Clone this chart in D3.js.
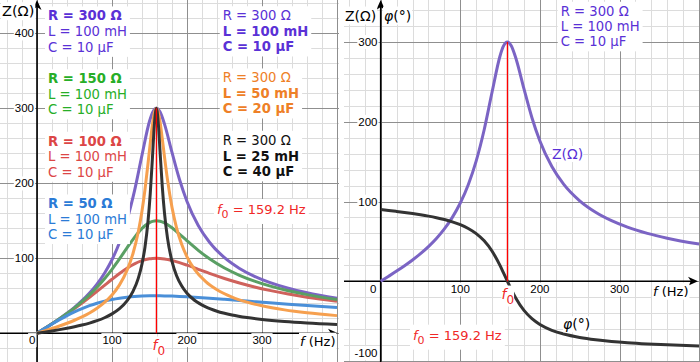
<!DOCTYPE html>
<html><head><meta charset="utf-8">
<script src="https://cdn.jsdelivr.net/npm/d3@7"></script>
<style>
body{margin:0;background:#fff;}
svg{display:block;font-family:"DejaVu Sans",Verdana,sans-serif;}
</style>
</head><body>
<svg id="c" width="700" height="362"></svg>
<script>
// ---------- DATA ----------
const freqCoarse = [0,10,20,30,40,50,60,70,80,90,100,110,120,130,140,150,154,159.2,164,170,180,190,200,215,230,250,270,290,310,335,360,400];
const zR50  = [0,6.26,12.37,18.20,23.64,28.59,33.01,36.85,40.13,42.85,45.05,46.77,48.07,48.99,49.59,49.91,49.97,50,49.98,49.89,49.62,49.23,48.72,47.82,46.79,45.30,43.75,42.18,40.63,38.76,36.98,34.35];
const zR100 = [0,6.30,12.67,19.18,25.91,32.91,40.23,47.88,55.81,63.93,72.02,79.78,86.79,92.61,96.85,99.30,99.78,100,99.82,99.14,97.09,94.20,90.82,85.35,79.88,73.07,67.03,61.76,57.19,52.30,48.16,42.74];
const zR150 = [0,6.30,12.72,19.38,26.41,33.95,42.17,51.25,61.37,72.71,85.36,99.23,113.82,127.98,139.95,147.68,149.27,150,149.40,147.15,140.67,132.30,123.39,110.61,99.42,87.13,77.39,69.58,63.22,56.79,51.60,45.09];
const zR300 = [0,6.31,12.76,19.50,26.72,34.62,43.48,53.65,65.63,80.11,98.11,121.07,150.99,189.95,237.52,282.67,294.31,300,295.25,278.95,241.11,205.00,175.82,143.74,121.42,100.82,86.50,75.98,67.91,60.11,54.05,46.70];
const phiDeg = [90,88.80,87.56,86.27,84.89,83.37,81.67,79.70,77.36,74.51,70.91,66.20,59.78,50.72,37.66,19.57,11.18,0,-10.20,-21.59,-36.51,-46.89,-54.12,-61.37,-66.13,-70.36,-73.24,-75.33,-76.92,-78.44,-79.62,-81.05];

const freqFine = [0,10,20,30,40,50,60,70,80,90,100,110,120,128,135,140,144,148,151,154,156.5,159.2,162,164,167,170,174,180,186,193,200,210,225,240,260,280,300,330,360,400];
const zL50  = [0,3.15,6.38,9.77,13.40,17.40,21.91,27.15,33.42,41.17,51.15,64.61,83.89,106.45,135.02,163.14,191.79,226.02,253.66,279.00,294.07,300,293.44,282.27,259.78,235.22,204.68,167.90,141.00,118.40,102.02,85.35,68.89,58.06,48.31,41.58,36.64,31.25,27.36,23.56];
const zL25  = [0,1.58,3.19,4.89,6.71,8.71,10.98,13.62,16.79,20.73,25.86,32.88,43.23,55.93,73.31,92.47,115.16,149.13,186.23,235.36,278.18,300,276.07,243.48,196.35,160.21,126.86,95.98,77.18,62.99,53.38,44.03,35.15,29.45,24.39,20.94,18.42,15.69,13.72,11.81];

const f0 = 159.2;
const f0Peak = 300;
const leftYTicks = [100,200,300,400];
const leftXTicks = [100,200,300];
const rightYTicks = [-100,100,200,300];
const rightXTicks = [100,200,300];

const txtPurpleL = ["R = 300 Ω","L = 100 mH","C = 10 µF"];
const txtGreen   = ["R = 150 Ω","L = 100 mH","C = 10 µF"];
const txtRed     = ["R = 100 Ω","L = 100 mH","C = 10 µF"];
const txtBlue    = ["R = 50 Ω","L = 100 mH","C = 10 µF"];
const txtPurpleR = ["R = 300 Ω","L = 100 mH","C = 10 µF"];
const txtOrange  = ["R = 300 Ω","L = 50 mH","C = 20 µF"];
const txtBlack   = ["R = 300 Ω","L = 25 mH","C = 40 µF"];

// ---------- DRAW ----------
const W = 700, H = 362;
const svg = d3.select('#c');
const defs = svg.append('defs');

const P = {
  left:  {x0:0,   x1:339, xs:d3.scaleLinear().domain([0,400]).range([37,337]),      ys:d3.scaleLinear().domain([0,400]).range([333.3,33.3]),  tipX:338},
  right: {x0:344, x1:700, xs:d3.scaleLinear().domain([0,300]).range([380.7,619.5]), ys:d3.scaleLinear().domain([0,300]).range([281.3,41.9]), tipX:698}
};

function crisp(v){ return Math.round(v) + 0.5; }

function drawGrid(name){
  const p = P[name];
  defs.append('clipPath').attr('id','clip-'+name).append('rect')
    .attr('x',p.x0).attr('y',0).attr('width',p.x1-p.x0).attr('height',H);
  const g = svg.append('g').attr('clip-path','url(#clip-'+name+')');
  p.g = g;
  const fx0 = p.xs.invert(p.x0), fx1 = p.xs.invert(p.x1);
  const fy0 = p.ys.invert(H), fy1 = p.ys.invert(0);
  const xt = d3.range(Math.ceil(fx0/20)*20, fx1+0.01, 20);
  const yt = d3.range(Math.ceil(fy0/20)*20, fy1+0.01, 20);
  const minor = g.append('g').attr('stroke','#dcdcdc').attr('stroke-width',1);
  const major = g.append('g').attr('stroke','#8f8f8f').attr('stroke-width',1);
  xt.forEach(v => {
    (Math.abs(v%100) < 1e-6 ? major : minor).append('line')
      .attr('x1',crisp(p.xs(v))).attr('x2',crisp(p.xs(v))).attr('y1',0).attr('y2',H);
  });
  yt.forEach(v => {
    (Math.abs(v%100) < 1e-6 ? major : minor).append('line')
      .attr('y1',crisp(p.ys(v))).attr('y2',crisp(p.ys(v))).attr('x1',p.x0).attr('x2',p.x1);
  });
  return g;
}

function drawAxes(name){
  const p = P[name], g = p.g;
  const ax = p.xs(0), ay = p.ys(0);
  const a = g.append('g');
  a.append('line').attr('x1',p.x0).attr('x2',p.tipX-3).attr('y1',ay).attr('y2',ay)
    .attr('stroke','#000').attr('stroke-width',1.6);
  a.append('line').attr('x1',ax).attr('x2',ax).attr('y1',H).attr('y2',3)
    .attr('stroke','#000').attr('stroke-width',1.6);
  const tx = p.tipX;
  a.append('path').attr('d',`M${tx},${ay} L${tx-10},${ay-4.5} L${tx-7},${ay} L${tx-10},${ay+4.5} Z`).attr('fill','#000');
  a.append('path').attr('d',`M${ax},0 L${ax-4.5},10 L${ax},7 L${ax+4.5},10 Z`).attr('fill','#000');
}

function boxText(g, x, y, anchor, build, pad){
  const grp = g.append('g');
  const rect = grp.append('rect').attr('fill','#fff');
  const t = grp.append('text').attr('x',x).attr('y',y).attr('text-anchor',anchor);
  build(t);
  const b = t.node().getBBox();
  const pd = pad === undefined ? 1 : pad;
  rect.attr('x',b.x-pd).attr('y',b.y-pd).attr('width',b.width+2*pd).attr('height',b.height+2*pd);
  return grp;
}

function tickLabels(name, xTicks, yTicks, yLabX, xLabY, zeroX, zeroY){
  const p = P[name], g = p.g;
  const style = t => t.attr('font-family','"Liberation Sans",Arial,sans-serif').attr('font-size',11.5).attr('fill','#000').attr('dy','0.36em');
  yTicks.forEach(v => {
    const yy = Math.min(p.ys(v), H-9);
    boxText(g, yLabX, yy, 'end', t => { style(t); t.text(v); });
  });
  xTicks.forEach(v => {
    boxText(g, p.xs(v), xLabY, 'middle', t => { style(t); t.text(v); });
  });
  boxText(g, zeroX, zeroY, 'end', t => { style(t); t.text(0); });
}

function group(g, x, y, lines, color, boldIdx, spacing){
  const grp = g.append('g');
  const rect = grp.append('rect').attr('fill','#fff');
  const boxes = [];
  lines.forEach((s,i) => {
    const t = grp.append('text').attr('x',x).attr('y',y+i*spacing).attr('dy','0.36em')
      .attr('font-size',13.2).attr('fill',color)
      .attr('font-weight', boldIdx.includes(i) ? 'bold' : 'normal').text(s);
    boxes.push(t.node().getBBox());
  });
  const x0 = d3.min(boxes,b=>b.x)-3, x1 = d3.max(boxes,b=>b.x+b.width)+3;
  const y0 = d3.min(boxes,b=>b.y)-2, y1 = d3.max(boxes,b=>b.y+b.height)+2;
  rect.attr('x',x0).attr('y',y0).attr('width',x1-x0).attr('height',y1-y0);
}

function f0Eq(g, x, y){
  boxText(g, x, y, 'start', t => {
    t.attr('font-size',13).attr('fill','#f02828').attr('dy','0.36em');
    t.append('tspan').attr('font-style','italic').text('f');
    t.append('tspan').attr('dy',4).attr('font-size',11).text('0');
    t.append('tspan').attr('dy',-4).text(' = 159.2 Hz');
  }, 3);
}
function f0Tick(g, x, y){
  boxText(g, x, y, 'start', t => {
    t.attr('font-size',14).attr('fill','#f02828').attr('dy','0.36em');
    t.append('tspan').attr('font-style','italic').text('f');
    t.append('tspan').attr('dy',5).attr('font-size',12).text('0');
  }, 0);
}
function fHz(g, x, y){
  boxText(g, x, y, 'start', t => {
    t.attr('font-size',13).attr('fill','#000').attr('dy','0.36em');
    t.append('tspan').attr('font-style','italic').text('f');
    t.append('tspan').text(' (Hz)');
  }, 1);
}

// ---- left panel ----
drawGrid('left');
const L = P.left;
const lineL = d3.line().x(d=>L.xs(d[0])).y(d=>L.ys(d[1])).curve(d3.curveMonotoneX);
const curvesL = [
  [freqCoarse, zR300, '#7b64c4'],
  [freqCoarse, zR100, '#cf625c'],
  [freqCoarse, zR150, '#5a9f64'],
  [freqCoarse, zR50,  '#4a8fd8'],
  [freqFine,   zL50,  '#f6a04f'],
  [freqFine,   zL25,  '#333333']
];
drawAxes('left');
curvesL.forEach(([fx, zy, col]) => {
  L.g.append('path').datum(d3.zip(fx, zy)).attr('d', lineL)
    .attr('fill','none').attr('stroke',col).attr('stroke-width',3).attr('stroke-linejoin','round');
});
L.g.append('line').attr('x1',L.xs(f0)).attr('x2',L.xs(f0)).attr('y1',L.ys(0)).attr('y2',L.ys(f0Peak))
  .attr('stroke','#ff0000').attr('stroke-width',1.3);
tickLabels('left', leftXTicks, leftYTicks, 34, 340, 35.5, 340);
boxText(L.g, 2, 11, 'start', t => t.attr('font-size',14.5).attr('dy','0.36em').attr('fill','#000').text('Z(Ω)'), 1);
fHz(L.g, 300, 341);
f0Tick(L.g, 152.5, 344.5);
group(L.g, 48, 15.7, txtPurpleL, '#5a31d6', [0], 15.7);
group(L.g, 48, 78.5, txtGreen,   '#27ae27', [0], 15.5);
group(L.g, 48, 141,  txtRed,     '#dc4646', [0], 15.5);
group(L.g, 48, 203.7,txtBlue,    '#2b7bd6', [0], 15.3);
group(L.g, 222.7, 15.5, txtPurpleR, '#5a31d6', [1,2], 15.6);
group(L.g, 222.7, 77.7, txtOrange,  '#ee8027', [1,2], 15.5);
group(L.g, 222.7, 140,  txtBlack,   '#111111', [1,2], 15.8);
f0Eq(L.g, 217, 209.3);

// ---- right panel ----
drawGrid('right');
const R = P.right;
const lineR = d3.line().x(d=>R.xs(d[0])).y(d=>R.ys(d[1])).curve(d3.curveMonotoneX);
drawAxes('right');
R.g.append('path').datum(d3.zip(freqCoarse, zR300)).attr('d', lineR)
  .attr('fill','none').attr('stroke','#7b64c4').attr('stroke-width',3);
R.g.append('path').datum(d3.zip(freqCoarse, phiDeg)).attr('d', lineR)
  .attr('fill','none').attr('stroke','#333333').attr('stroke-width',3);
R.g.append('line').attr('x1',R.xs(f0)).attr('x2',R.xs(f0)).attr('y1',R.ys(0)).attr('y2',R.ys(f0Peak))
  .attr('stroke','#ff0000').attr('stroke-width',1.3);
tickLabels('right', rightXTicks, rightYTicks, 377.5, 289.3, 376.5, 289.3);
boxText(R.g, 345, 15.5, 'start', t => t.attr('font-size',14).attr('dy','0.36em').attr('fill','#000').text('Z(Ω)'), 1);
boxText(R.g, 384, 15.5, 'start', t => {
  t.attr('font-size',14).attr('dy','0.36em').attr('fill','#000');
  t.append('tspan').attr('font-style','italic').text('φ');
  t.append('tspan').text('(°)');
}, 1);
fHz(R.g, 653, 291);
f0Tick(R.g, 501.5, 293.5);
group(R.g, 560.7, 11, txtPurpleR, '#5a31d6', [], 15.3);
f0Eq(R.g, 413, 335);
boxText(R.g, 552, 154, 'start', t => t.attr('font-size',14).attr('dy','0.36em').attr('fill','#5a31d6').text('Z(Ω)'), 0);
boxText(R.g, 563, 324.3, 'start', t => {
  t.attr('font-size',14).attr('dy','0.36em').attr('fill','#000');
  t.append('tspan').attr('font-style','italic').text('φ');
  t.append('tspan').text('(°)');
}, 0);
</script>
</body></html>
